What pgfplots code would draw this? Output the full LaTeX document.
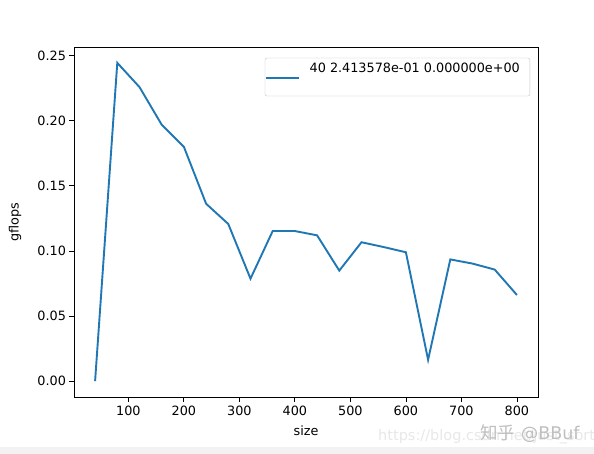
\documentclass[border=0pt]{standalone}
\usepackage{pgfplots}
\pgfplotsset{compat=1.18}
\usepackage{fontspec}
\setmainfont{DejaVu Sans}
\newfontfamily\cjk{Noto Sans CJK SC}
\definecolor{mplblue}{HTML}{1F77B4}
\newcommand\mplfont{\fontsize{12.8bp}{15bp}\selectfont}
\begin{document}
\begin{tikzpicture}
\path[use as bounding box, fill=white] (-74bp,-57bp) rectangle (520bp,397bp);
\fill[black!5] (-74bp,-57bp) rectangle (520bp,-50bp);
\node[anchor=base west, text=black!9, font=\fontsize{14.5bp}{16bp}\selectfont, inner sep=0pt] at (304bp,-43bp) {https://blog.csdn.net/just\_sort};
\node[anchor=base west, text=black!25, font=\fontsize{17.5bp}{20bp}\selectfont, inner sep=0pt] at (406bp,-42bp) {{\cjk 知乎} @BBuf};
\begin{axis}[
  at={(0,0)}, anchor=south west,
  scale only axis, width=464bp, height=350bp,
  xmin=2, xmax=838, ymin=-0.0122, ymax=0.2567,
  xtick={100,200,...,800},
  ytick={0,0.05,0.1,0.15,0.2,0.25},
  yticklabel style={/pgf/number format/.cd, fixed, fixed zerofill, precision=2},
  /pgf/number format/assume math mode=true,
  scaled y ticks=false,
  tick align=outside, xtick pos=bottom, ytick pos=left,
  major tick length=4.5bp,
  tick style={black, line width=0.8bp},
  axis line style={line width=0.8bp},
  ticklabel style={font=\mplfont},
  xticklabel style={yshift=-0.5bp},
  xlabel={size}, ylabel={gflops},
  every axis x label/.style={at={(axis description cs:0.5,-0.097)}, anchor=center, font=\mplfont},
  every axis y label/.style={at={(axis description cs:-0.127,0.5)}, anchor=center, rotate=90, font=\mplfont},
  legend style={at={(axis description cs:0.983,0.969)}, anchor=north east,
    draw=black!22, rounded corners=2bp, fill=white, inner sep=0pt,
    /tikz/column sep=0pt,
    nodes={inner sep=0pt, font=\mplfont, text height=14bp, text depth=24bp}},
  legend image code/.code={\path (0bp,-1bp) -- (33bp,-1bp); \draw[#1] (4.7bp,-1bp) -- (32.7bp,-1bp);},
]
\addplot[mplblue, line width=1.9bp] coordinates {
(40,0) (80,0.2445) (120,0.2259) (160,0.197) (200,0.180) (240,0.1363)
(280,0.1207) (320,0.0787) (360,0.1153) (400,0.1153) (440,0.112)
(480,0.0849) (520,0.1067) (560,0.103) (600,0.099) (640,0.0164)
(680,0.0935) (720,0.0903) (760,0.0857) (800,0.0662)};
\addlegendentry{\hspace*{9.8bp}40 2.413578e-01 0.000000e+00\hspace*{10bp}}
\end{axis}
\end{tikzpicture}
\end{document}
